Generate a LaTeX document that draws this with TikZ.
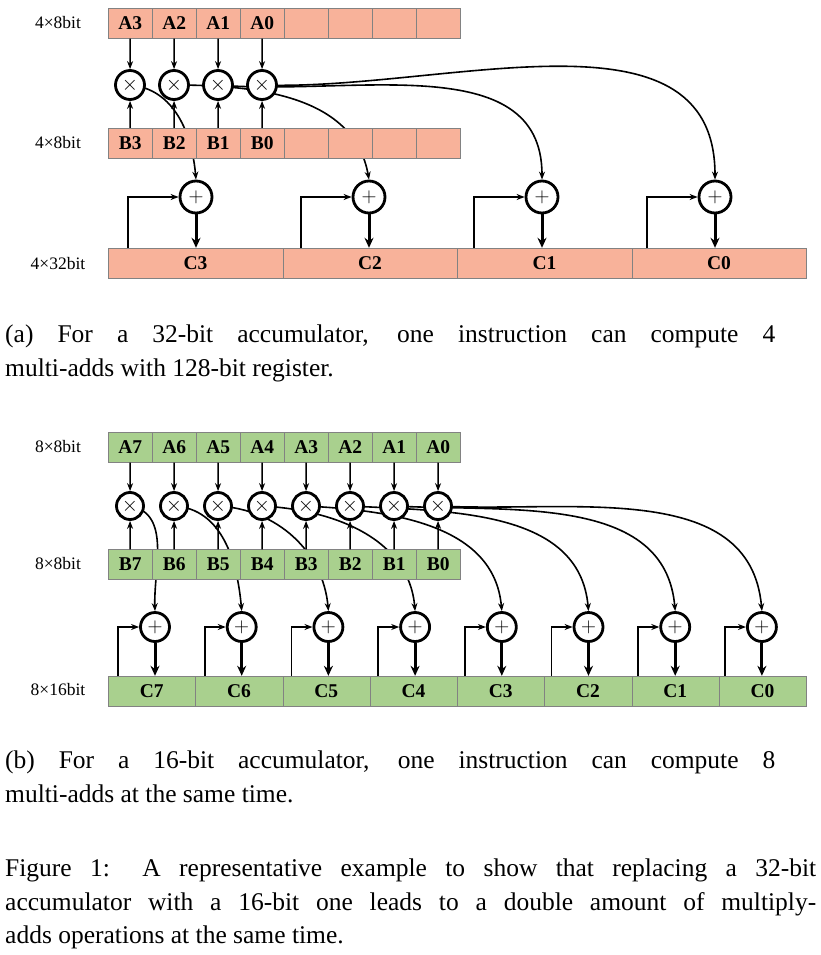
\documentclass[tikz,border=0pt]{standalone}
\usepackage{fontspec}
\setmainfont{Liberation Serif}
\usetikzlibrary{arrows.meta}
\pgfdeclarelayer{bg}\pgfsetlayers{bg,main}
\definecolor{org}{RGB}{248,178,154}
\definecolor{grn}{RGB}{169,208,142}
\definecolor{edg}{RGB}{130,130,130}
\hyphenpenalty=10000
\tikzset{
 cell/.style={draw=edg,fill=#1,minimum height=30pt,inner sep=0pt,font=\fontsize{19.5}{19.5}\selectfont\bfseries,anchor=west},
 mul/.style={circle,draw,line width=2.8pt,fill=white,minimum size=#1,inner sep=0pt},
 sidelab/.style={font=\fontsize{17.5}{17.5}\selectfont},
 ar/.style={-{Stealth[length=8pt,width=6pt]},line width=1.6pt},
 thk/.style={-{Stealth[length=10pt,width=9pt]},line width=3pt},
 cap/.style={anchor=north west,inner sep=0pt,text width=#1,align=justify,font=\fontsize{25.5}{33.5}\selectfont},
}
\newcommand{\mysym}[1]{\fontsize{22}{22}\selectfont$#1$}
\begin{document}
\begin{tikzpicture}[x=1pt,y=-1pt]
\useasboundingbox (0,0) rectangle (821,955);
% ---------- (a)
\node[sidelab] at (58,23) {4×8bit};
\node[sidelab] at (58,143) {4×8bit};
\node[sidelab] at (58,264) {4×32bit};
\foreach \i/\t in {0/A3,1/A2,2/A1,3/A0,4/,5/,6/,7/}
  \node[cell=org,minimum width=44pt] (a\i) at (108+44*\i,23.5) {\t};
\foreach \i/\t in {0/B3,1/B2,2/B1,3/B0,4/,5/,6/,7/}
  \node[cell=org,minimum width=44pt] (b\i) at (108+44*\i,143) {\t};
\foreach \i/\t in {0/C3,1/C2,2/C1,3/C0}
  \node[cell=org,minimum width=174.5pt] (c\i) at (108+174.5*\i,263) {\t};
\foreach \i in {0,...,3} {
  \node[mul=29pt] (m\i) at (130+44*\i,85) {\mysym{\times}};
  \draw[ar] (a\i) -- (m\i);
  \draw[ar] (b\i) -- (m\i);
}
\foreach \i/\x in {0/196,1/369,2/542,3/715} {
  \node[mul=32pt] (p\i) at (\x,197) {\mysym{+}};
  \draw[thk] (p\i) -- (p\i|-c\i.north);
  \coordinate (f\i) at (\x-68,248);
  \draw[ar] (f\i) |- (p\i);
}
\begin{pgfonlayer}{bg}
\draw[ar] (m0.center) to[out=-5,in=95] (p0.north);
\draw[ar] (m1.center) to[out=0,in=100] (p1.north);
\draw[ar] (m2.center) to[out=-5,in=90] (p2.north);
\draw[ar] (m3.center) to[out=-2,in=90] (p3.north);
\end{pgfonlayer}
\node[cap=770pt] (ca) at (5,325) {(a) For a 32-bit accumulator, one instruction can compute 4\linebreak multi-adds with 128-bit register.};
% ---------- (b)
\node[sidelab] at (58,447) {8×8bit};
\node[sidelab] at (58,564) {8×8bit};
\node[sidelab] at (58,690) {8×16bit};
\foreach \i/\t in {0/A7,1/A6,2/A5,3/A4,4/A3,5/A2,6/A1,7/A0}
  \node[cell=grn,minimum width=44pt] (ga\i) at (108+44*\i,447.5) {\t};
\foreach \i/\t in {0/B7,1/B6,2/B5,3/B4,4/B3,5/B2,6/B1,7/B0}
  \node[cell=grn,minimum width=44pt] (gb\i) at (108+44*\i,564.5) {\t};
\foreach \i/\t in {0/C7,1/C6,2/C5,3/C4,4/C3,5/C2,6/C1,7/C0}
  \node[cell=grn,minimum width=87.25pt] (gc\i) at (108+87.25*\i,691) {\t};
\foreach \i in {0,...,7} {
  \node[mul=27pt] (gm\i) at (130+44*\i,506) {\mysym{\times}};
  \draw[ar] (ga\i) -- (gm\i);
  \draw[ar] (gb\i) -- (gm\i);
  \node[mul=29pt] (gp\i) at (155+86.7*\i,627) {\mysym{+}};
  \draw[thk] (gp\i) -- (gp\i|-gc\i.north);
  \coordinate (gf\i) at (155+86.7*\i-37,676);
  \draw[ar] (gf\i) |- (gp\i);
}
\begin{pgfonlayer}{bg}
\draw[ar] (gm0.center) to[out=-10,in=92] (gp0.north);
\foreach \i in {1,...,7}
  \draw[ar] (gm\i.center) to[out=-3,in=95] (gp\i.north);
\end{pgfonlayer}
\node[cap=770pt] (cb) at (5,751) {(b) For a 16-bit accumulator, one instruction can compute 8\linebreak multi-adds at the same time.};
\node[cap=811pt] (fig) at (5,859) {Figure 1: A representative example to show that replacing a 32-bit\linebreak accumulator with a 16-bit one leads to a double amount of multiply-\linebreak adds operations at the same time.};
\end{tikzpicture}
\end{document}
